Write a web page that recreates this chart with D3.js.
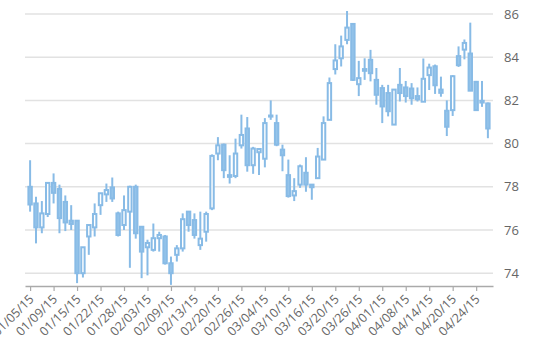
<!DOCTYPE html>
<html>
<head>
<meta charset="utf-8">
<script src="https://cdn.jsdelivr.net/npm/d3@7"></script>
<style>
  html, body { margin: 0; padding: 0; background: #fff; }
  svg { display: block; font-family: "Open Sans", "Segoe UI", sans-serif; }
</style>
</head>
<body>
<div id="chart"></div>
<script>
// trading days (category axis)
const dates = [
  "01/05/15","01/06/15","01/07/15","01/08/15","01/09/15","01/12/15","01/13/15","01/14/15","01/15/15","01/16/15",
  "01/20/15","01/21/15","01/22/15","01/23/15","01/26/15","01/27/15","01/28/15","01/29/15","01/30/15","02/02/15",
  "02/03/15","02/04/15","02/05/15","02/06/15","02/09/15","02/10/15","02/11/15","02/12/15","02/13/15","02/17/15",
  "02/18/15","02/19/15","02/20/15","02/23/15","02/24/15","02/25/15","02/26/15","02/27/15","03/02/15","03/03/15",
  "03/04/15","03/05/15","03/06/15","03/09/15","03/10/15","03/11/15","03/12/15","03/13/15","03/16/15","03/17/15",
  "03/18/15","03/19/15","03/20/15","03/23/15","03/24/15","03/25/15","03/26/15","03/27/15","03/30/15","03/31/15",
  "04/01/15","04/02/15","04/06/15","04/07/15","04/08/15","04/09/15","04/10/15","04/13/15","04/14/15","04/15/15",
  "04/16/15","04/17/15","04/20/15","04/21/15","04/22/15","04/23/15","04/24/15","04/27/15","04/28/15"
];
const open = [
  78.0, 77.23, 76.12, 76.74, 78.18, 77.9, 77.3, 76.43, 76.43, 74.0,
  75.7, 76.12, 77.15, 77.65, 77.97, 76.77, 76.23, 76.85, 78.0, 76.15,
  75.2, 75.08, 75.62, 75.7, 74.46, 74.85, 75.15, 76.85, 76.46, 75.3,
  75.92, 77.0, 79.54, 79.95, 78.54, 78.5, 79.92, 80.7, 79.0, 79.6,
  79.3, 81.25, 80.95, 79.72, 78.54, 77.6, 78.1, 78.65, 78.1, 78.4,
  79.26, 81.1, 83.45, 83.95, 84.8, 85.54, 82.75, 83.45, 83.88, 82.95,
  82.57, 82.34, 80.88, 82.72, 82.6, 82.55, 82.2, 81.94, 83.17, 83.58,
  82.5, 81.52, 81.55, 84.05, 84.35, 84.17, 82.86, 81.98, 81.86
];
const high = [
  79.23, 77.54, 77.34, 78.2, 78.62, 78.1, 77.6, 77.15, 76.43, 75.2,
  76.23, 77.23, 77.72, 78.15, 78.43, 76.85, 77.6, 78.05, 78.1, 76.15,
  75.55, 76.3, 75.92, 75.77, 74.77, 75.3, 76.77, 76.85, 76.77, 76.85,
  76.85, 79.5, 80.3, 80.0, 79.46, 80.23, 81.34, 81.23, 79.85, 79.8,
  81.18, 82.0, 81.34, 79.95, 79.26, 78.4, 79.03, 79.37, 78.1, 79.8,
  81.26, 83.06, 84.6, 85.0, 86.14, 85.54, 83.83, 83.95, 84.34, 83.5,
  82.72, 82.72, 82.5, 83.5, 82.9, 82.8, 82.6, 83.94, 83.7, 83.66,
  83.1, 82.0, 83.17, 84.5, 84.82, 85.6, 82.9, 82.9, 81.9
];
const low = [
  76.85, 75.38, 75.85, 76.6, 77.23, 75.85, 75.95, 76.0, 73.54, 73.8,
  74.85, 75.7, 76.7, 77.3, 77.3, 75.7, 76.0, 74.25, 75.6, 73.77,
  73.9, 75.0, 75.0, 74.4, 73.46, 74.54, 75.0, 75.92, 75.6, 75.08,
  75.46, 76.92, 79.23, 78.4, 78.15, 78.4, 79.77, 78.7, 78.6, 78.55,
  78.9, 81.1, 79.88, 78.72, 77.5, 77.34, 77.95, 77.77, 77.4, 78.4,
  79.26, 81.1, 83.2, 83.57, 84.6, 82.9, 82.2, 82.95, 82.88, 81.8,
  80.95, 81.26, 80.88, 81.95, 81.9, 81.8, 81.95, 81.94, 82.48, 82.3,
  82.17, 80.35, 81.28, 83.55, 83.9, 82.45, 81.55, 81.7, 80.25
];
const close = [
  77.18, 76.12, 76.77, 78.18, 77.72, 76.55, 76.35, 76.28, 74.0, 75.2,
  76.23, 76.74, 77.7, 77.85, 77.46, 75.77, 76.92, 78.0, 75.85, 75.0,
  75.4, 75.62, 75.77, 74.46, 74.0, 75.15, 76.5, 76.23, 75.77, 75.6,
  76.74, 79.43, 79.92, 78.77, 78.46, 79.54, 80.4, 79.0, 79.77, 79.75,
  80.95, 81.3, 79.95, 79.46, 77.57, 77.8, 78.95, 78.1, 77.98, 79.4,
  80.95, 82.8, 83.85, 84.5, 85.37, 82.95, 83.03, 83.37, 83.26, 82.26,
  81.72, 81.5, 82.5, 82.34, 82.2, 82.1, 82.05, 83.0, 83.52, 82.7,
  82.35, 80.78, 83.12, 83.63, 84.66, 82.45, 81.55, 81.9, 80.7
];
const yTicks = [74, 76, 78, 80, 82, 84, 86];
const xTickLabels = dates.filter((d, i) => i % 4 === 0);

const width = 539;
const height = 351;
const plot = { left: 25, right: 493, top: 0, bottom: 286 };
const color = "#88bbe6";

const data = dates.map((d, i) => ({ date: d, o: open[i], h: high[i], l: low[i], c: close[i] }));

const svg = d3.select("#chart")
  .append("svg")
  .attr("width", width)
  .attr("height", height);

// scales
const x = d3.scalePoint()
  .domain(dates)
  .range([plot.left, plot.right])
  .padding(0.87);

const y = d3.scaleLinear()
  .domain([74, 86])
  .range([273.2, 14]);

// horizontal grid
svg.append("g")
  .selectAll("line")
  .data(yTicks)
  .enter()
  .append("line")
  .attr("x1", plot.left)
  .attr("x2", plot.right)
  .attr("y1", d => y(d))
  .attr("y2", d => y(d))
  .attr("stroke", "#e2e2e2")
  .attr("stroke-width", 1.5);

// y axis on the right, labels only
const yAxis = svg.append("g")
  .attr("transform", `translate(${plot.right}, 0)`)
  .call(d3.axisRight(y).tickValues(yTicks).tickSize(0).tickPadding(11));
yAxis.select(".domain").remove();
yAxis.selectAll("text")
  .attr("fill", "#666")
  .style("font-size", "13px")
  .style("font-family", "'Open Sans', sans-serif");

// x axis
const xAxis = svg.append("g")
  .attr("transform", `translate(0, ${plot.bottom})`)
  .call(d3.axisBottom(x).tickValues(xTickLabels).tickSizeOuter(0).tickSizeInner(5));
xAxis.select(".domain")
  .attr("stroke", "#aaa")
  .attr("stroke-width", 1.5);
xAxis.selectAll(".tick line")
  .attr("stroke", "#aaa")
  .attr("stroke-width", 1.2);
xAxis.selectAll(".tick text")
  .attr("fill", "#666")
  .style("font-size", "12.5px")
  .style("font-family", "'Open Sans', sans-serif")
  .style("text-anchor", "end")
  .attr("dy", 0)
  .attr("y", 0)
  .attr("transform", "translate(4, 14) rotate(-45)");

// candles
const candles = svg.append("g")
  .selectAll("g")
  .data(data)
  .enter()
  .append("g")
  .attr("transform", d => `translate(${x(d.date)}, 0)`);

candles.append("line")
  .attr("y1", d => y(d.h))
  .attr("y2", d => y(d.l))
  .attr("stroke", color)
  .attr("stroke-width", 2);

const bodyW = 3.4;
candles.append("rect")
  .attr("x", -bodyW / 2)
  .attr("y", d => y(Math.max(d.o, d.c)))
  .attr("width", bodyW)
  .attr("height", d => Math.max(0.8, Math.abs(y(d.o) - y(d.c))))
  .attr("fill", d => d.c > d.o ? "#fff" : "#95c4ea")
  .attr("stroke", color)
  .attr("stroke-width", 2);
</script>
</body>
</html>
